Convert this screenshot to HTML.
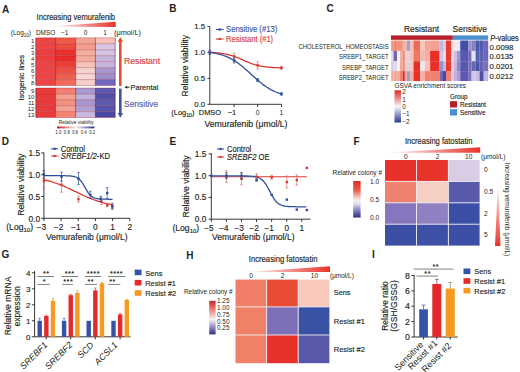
<!DOCTYPE html>
<html><head><meta charset="utf-8"><style>
html,body{margin:0;padding:0;background:#fff;}
svg{display:block;}
text{font-family:"Liberation Sans", sans-serif;}
</style></head><body>
<svg width="520" height="372" viewBox="0 0 520 372">
<rect width="520" height="372" fill="#fff"/>
<g fill="#231f20">
<text x="2.00" y="12.60" font-size="10" font-weight="bold" textLength="7.30" lengthAdjust="spacingAndGlyphs" >A</text>
<text x="36.60" y="20.00" font-size="8.56" stroke="#231f20" stroke-width="0.15" textLength="78.40" lengthAdjust="spacingAndGlyphs" >Increasing vemurafenib</text>
<defs><linearGradient id="wA" x1="0" x2="1" y1="0" y2="0"><stop offset="0" stop-color="#fff"/><stop offset="1" stop-color="#e8332a"/></linearGradient><linearGradient id="wV" x1="0" x2="0" y1="0" y2="1"><stop offset="0" stop-color="#fff"/><stop offset="1" stop-color="#e8332a"/></linearGradient><linearGradient id="cbA" x1="0" x2="1"><stop offset="0" stop-color="#b2182b"/><stop offset="0.25" stop-color="#e7807a"/><stop offset="0.5" stop-color="#f7f4f6"/><stop offset="0.75" stop-color="#9a8fc4"/><stop offset="1" stop-color="#2a2a72"/></linearGradient><linearGradient id="cbC" x1="0" x2="0" y1="0" y2="1"><stop offset="0" stop-color="#e0281e"/><stop offset="0.5" stop-color="#f8f4f6"/><stop offset="1" stop-color="#2c3b92"/></linearGradient><linearGradient id="cbF" x1="0" x2="0" y1="0" y2="1"><stop offset="0" stop-color="#de2a22"/><stop offset="0.25" stop-color="#ea5a4c"/><stop offset="0.52" stop-color="#f8eeee"/><stop offset="0.62" stop-color="#e6e0ee"/><stop offset="0.82" stop-color="#7e7cbc"/><stop offset="1" stop-color="#2e2e88"/></linearGradient></defs>
<polygon points="50,26.5 115.7,21.8 115.7,26.9" fill="url(#wA)"/>
<text x="10.80" y="35.00" font-size="6.5" >(Log<tspan font-size="4.5" dy="1.5">10</tspan><tspan dy="-1.5">)</tspan></text>
<text x="36.00" y="35.00" font-size="6.5" textLength="19.20" lengthAdjust="spacingAndGlyphs" >DMSO</text>
<text x="68.40" y="35.00" font-size="6.5" text-anchor="end" >−1</text>
<text x="85.50" y="35.00" font-size="6.5" text-anchor="middle" >0</text>
<text x="105.00" y="35.00" font-size="6.5" text-anchor="middle" >1</text>
<text x="114.00" y="35.00" font-size="6.5" textLength="27.00" lengthAdjust="spacingAndGlyphs" >(μmol/L)</text>
<rect x="35.80" y="37.80" width="19.80" height="5.97" fill="#ed4446" />
<rect x="55.60" y="37.80" width="20.00" height="5.97" fill="#ef5a48" />
<rect x="75.60" y="37.80" width="19.80" height="5.97" fill="#f2a495" />
<rect x="95.40" y="37.80" width="19.80" height="5.97" fill="#f6c2b8" />
<rect x="35.80" y="43.77" width="19.80" height="5.97" fill="#ed4446" />
<rect x="55.60" y="43.77" width="20.00" height="5.97" fill="#ed4a40" />
<rect x="75.60" y="43.77" width="19.80" height="5.97" fill="#f29d8d" />
<rect x="95.40" y="43.77" width="19.80" height="5.97" fill="#d9c6e3" />
<rect x="35.80" y="49.74" width="19.80" height="5.97" fill="#ec3e40" />
<rect x="55.60" y="49.74" width="20.00" height="5.97" fill="#e9302c" />
<rect x="75.60" y="49.74" width="19.80" height="5.97" fill="#f3ae9f" />
<rect x="95.40" y="49.74" width="19.80" height="5.97" fill="#d3c3e2" />
<rect x="35.80" y="55.71" width="19.80" height="5.97" fill="#ec3e40" />
<rect x="55.60" y="55.71" width="20.00" height="5.97" fill="#e82a28" />
<rect x="75.60" y="55.71" width="19.80" height="5.97" fill="#f3ad9f" />
<rect x="95.40" y="55.71" width="19.80" height="5.97" fill="#c5b5db" />
<rect x="35.80" y="61.68" width="19.80" height="5.97" fill="#ed4446" />
<rect x="55.60" y="61.68" width="20.00" height="5.97" fill="#eb3f36" />
<rect x="75.60" y="61.68" width="19.80" height="5.97" fill="#f5c3b8" />
<rect x="95.40" y="61.68" width="19.80" height="5.97" fill="#c6b6dd" />
<rect x="35.80" y="67.65" width="19.80" height="5.97" fill="#ed4446" />
<rect x="55.60" y="67.65" width="20.00" height="5.97" fill="#ec4f44" />
<rect x="75.60" y="67.65" width="19.80" height="5.97" fill="#f4d4d0" />
<rect x="95.40" y="67.65" width="19.80" height="5.97" fill="#a898cd" />
<rect x="35.80" y="73.62" width="19.80" height="5.97" fill="#ed4446" />
<rect x="55.60" y="73.62" width="20.00" height="5.97" fill="#ee5e50" />
<rect x="75.60" y="73.62" width="19.80" height="5.97" fill="#f4d6d3" />
<rect x="95.40" y="73.62" width="19.80" height="5.97" fill="#9e8fca" />
<rect x="35.80" y="79.59" width="19.80" height="5.97" fill="#ed4446" />
<rect x="55.60" y="79.59" width="20.00" height="5.97" fill="#ef6c5c" />
<rect x="75.60" y="79.59" width="19.80" height="5.97" fill="#f3cfcb" />
<rect x="95.40" y="79.59" width="19.80" height="5.97" fill="#7068bd" />
<rect x="35.80" y="88.00" width="19.80" height="5.90" fill="#e83a38" />
<rect x="55.60" y="88.00" width="20.00" height="5.90" fill="#f28070" />
<rect x="75.60" y="88.00" width="19.80" height="5.90" fill="#a898d0" />
<rect x="95.40" y="88.00" width="19.80" height="5.90" fill="#5a5ab0" />
<rect x="35.80" y="93.90" width="19.80" height="5.90" fill="#e83a38" />
<rect x="55.60" y="93.90" width="20.00" height="5.90" fill="#f4a090" />
<rect x="75.60" y="93.90" width="19.80" height="5.90" fill="#c0b0dc" />
<rect x="95.40" y="93.90" width="19.80" height="5.90" fill="#5050a8" />
<rect x="35.80" y="99.80" width="19.80" height="5.90" fill="#e83a38" />
<rect x="55.60" y="99.80" width="20.00" height="5.90" fill="#f29080" />
<rect x="75.60" y="99.80" width="19.80" height="5.90" fill="#a898d0" />
<rect x="95.40" y="99.80" width="19.80" height="5.90" fill="#5c5cb0" />
<rect x="35.80" y="105.70" width="19.80" height="5.90" fill="#e83a38" />
<rect x="55.60" y="105.70" width="20.00" height="5.90" fill="#f4a090" />
<rect x="75.60" y="105.70" width="19.80" height="5.90" fill="#b0a0d4" />
<rect x="95.40" y="105.70" width="19.80" height="5.90" fill="#5454ac" />
<rect x="35.80" y="111.60" width="19.80" height="5.90" fill="#e83a38" />
<rect x="55.60" y="111.60" width="20.00" height="5.90" fill="#f28474" />
<rect x="75.60" y="111.60" width="19.80" height="5.90" fill="#c8b8e0" />
<rect x="95.40" y="111.60" width="19.80" height="5.90" fill="#4848a4" />
<line x1="35.80" y1="37.80" x2="115.20" y2="37.80" stroke="rgba(140,0,25,0.32)" stroke-width="0.9" />
<line x1="35.80" y1="43.77" x2="115.20" y2="43.77" stroke="rgba(140,0,25,0.32)" stroke-width="0.9" />
<line x1="35.80" y1="49.74" x2="115.20" y2="49.74" stroke="rgba(140,0,25,0.32)" stroke-width="0.9" />
<line x1="35.80" y1="55.71" x2="115.20" y2="55.71" stroke="rgba(140,0,25,0.32)" stroke-width="0.9" />
<line x1="35.80" y1="61.68" x2="115.20" y2="61.68" stroke="rgba(140,0,25,0.32)" stroke-width="0.9" />
<line x1="35.80" y1="67.65" x2="115.20" y2="67.65" stroke="rgba(140,0,25,0.32)" stroke-width="0.9" />
<line x1="35.80" y1="73.62" x2="115.20" y2="73.62" stroke="rgba(140,0,25,0.32)" stroke-width="0.9" />
<line x1="35.80" y1="79.59" x2="115.20" y2="79.59" stroke="rgba(140,0,25,0.32)" stroke-width="0.9" />
<line x1="35.80" y1="85.56" x2="115.20" y2="85.56" stroke="rgba(140,0,25,0.32)" stroke-width="0.9" />
<line x1="35.80" y1="88.00" x2="115.20" y2="88.00" stroke="rgba(140,0,25,0.32)" stroke-width="0.9" />
<line x1="35.80" y1="93.90" x2="115.20" y2="93.90" stroke="rgba(140,0,25,0.32)" stroke-width="0.9" />
<line x1="35.80" y1="99.80" x2="115.20" y2="99.80" stroke="rgba(140,0,25,0.32)" stroke-width="0.9" />
<line x1="35.80" y1="105.70" x2="115.20" y2="105.70" stroke="rgba(140,0,25,0.32)" stroke-width="0.9" />
<line x1="35.80" y1="111.60" x2="115.20" y2="111.60" stroke="rgba(140,0,25,0.32)" stroke-width="0.9" />
<line x1="35.80" y1="117.50" x2="115.20" y2="117.50" stroke="rgba(140,0,25,0.32)" stroke-width="0.9" />
<line x1="35.80" y1="37.80" x2="35.80" y2="85.56" stroke="rgba(90,0,25,0.6)" stroke-width="0.8" />
<line x1="35.80" y1="88.00" x2="35.80" y2="117.50" stroke="rgba(90,0,25,0.6)" stroke-width="0.8" />
<line x1="55.60" y1="37.80" x2="55.60" y2="85.56" stroke="rgba(90,0,25,0.6)" stroke-width="0.8" />
<line x1="55.60" y1="88.00" x2="55.60" y2="117.50" stroke="rgba(90,0,25,0.6)" stroke-width="0.8" />
<line x1="75.60" y1="37.80" x2="75.60" y2="85.56" stroke="rgba(90,0,25,0.6)" stroke-width="0.8" />
<line x1="75.60" y1="88.00" x2="75.60" y2="117.50" stroke="rgba(90,0,25,0.6)" stroke-width="0.8" />
<line x1="95.40" y1="37.80" x2="95.40" y2="85.56" stroke="rgba(90,0,25,0.6)" stroke-width="0.8" />
<line x1="95.40" y1="88.00" x2="95.40" y2="117.50" stroke="rgba(90,0,25,0.6)" stroke-width="0.8" />
<line x1="115.20" y1="37.80" x2="115.20" y2="85.56" stroke="rgba(90,0,25,0.6)" stroke-width="0.8" />
<line x1="115.20" y1="88.00" x2="115.20" y2="117.50" stroke="rgba(90,0,25,0.6)" stroke-width="0.8" />
<text x="34.40" y="42.88" font-size="6" text-anchor="end" >1</text>
<text x="34.40" y="48.85" font-size="6" text-anchor="end" >2</text>
<text x="34.40" y="54.82" font-size="6" text-anchor="end" >3</text>
<text x="34.40" y="60.79" font-size="6" text-anchor="end" >4</text>
<text x="34.40" y="66.76" font-size="6" text-anchor="end" >5</text>
<text x="34.40" y="72.73" font-size="6" text-anchor="end" >6</text>
<text x="34.40" y="78.70" font-size="6" text-anchor="end" >7</text>
<text x="34.40" y="84.67" font-size="6" text-anchor="end" >8</text>
<text x="34.40" y="93.05" font-size="6" text-anchor="end" >9</text>
<text x="34.40" y="98.95" font-size="6" text-anchor="end" >10</text>
<text x="34.40" y="104.85" font-size="6" text-anchor="end" >11</text>
<text x="34.40" y="110.75" font-size="6" text-anchor="end" >12</text>
<text x="34.40" y="116.65" font-size="6" text-anchor="end" >13</text>
<text x="24.30" y="100.60" font-size="7.4" stroke="#231f20" stroke-width="0.15" textLength="45.60" lengthAdjust="spacingAndGlyphs" transform="rotate(-90 24.30 100.60)" >Isogenic lines</text>
<line x1="120.3" y1="41" x2="120.3" y2="85.9" stroke="#e4502e" stroke-width="2.6"/>
<polygon points="117.6,41.8 123.0,41.8 120.3,37.0" fill="#e4502e"/>
<line x1="120.3" y1="88.6" x2="120.3" y2="113.5" stroke="#3a55a4" stroke-width="2.6"/>
<polygon points="117.6,113 123.0,113 120.3,117.8" fill="#3a55a4"/>
<text x="124.00" y="63.60" font-size="9.2" fill="#d63e42" stroke="#d63e42" stroke-width="0.15" textLength="36.10" lengthAdjust="spacingAndGlyphs" >Resistant</text>
<text x="124.00" y="107.10" font-size="9.0" fill="#5464aa" stroke="#5464aa" stroke-width="0.15" textLength="34.30" lengthAdjust="spacingAndGlyphs" >Sensitive</text>
<line x1="126.50" y1="87.20" x2="129.60" y2="87.20" stroke="#231f20" stroke-width="0.9" />
<polygon points="124.4,87.2 127.2,85.7 127.2,88.7" fill="#231f20"/>
<text x="130.50" y="89.80" font-size="7.81" stroke="#231f20" stroke-width="0.15" textLength="27.80" lengthAdjust="spacingAndGlyphs" >Parental</text>
<text x="58.80" y="124.00" font-size="5.56" textLength="35.00" lengthAdjust="spacingAndGlyphs" >Relative viability</text>
<rect x="57.00" y="126.50" width="37.40" height="1.90" fill="url(#cbA)" />
<text x="55.30" y="134.00" font-size="4.6" textLength="39.90" lengthAdjust="spacingAndGlyphs" >1.0 &#160;0.8 &#160;0.6 &#160;0.4 &#160;0.2</text>
<text x="169.20" y="12.40" font-size="10" font-weight="bold" >B</text>
<line x1="209.80" y1="26.50" x2="209.80" y2="104.30" stroke="#231f20" stroke-width="0.9" />
<line x1="209.80" y1="104.30" x2="281.50" y2="104.30" stroke="#231f20" stroke-width="0.9" />
<line x1="207.40" y1="104.30" x2="209.80" y2="104.30" stroke="#231f20" stroke-width="0.9" />
<text x="205.20" y="107.00" font-size="7.8" text-anchor="end" stroke="#231f20" stroke-width="0.15" >0.0</text>
<line x1="207.40" y1="78.35" x2="209.80" y2="78.35" stroke="#231f20" stroke-width="0.9" />
<text x="205.20" y="81.05" font-size="7.8" text-anchor="end" stroke="#231f20" stroke-width="0.15" >0.5</text>
<line x1="207.40" y1="52.40" x2="209.80" y2="52.40" stroke="#231f20" stroke-width="0.9" />
<text x="205.20" y="55.10" font-size="7.8" text-anchor="end" stroke="#231f20" stroke-width="0.15" >1.0</text>
<line x1="207.40" y1="26.45" x2="209.80" y2="26.45" stroke="#231f20" stroke-width="0.9" />
<text x="205.20" y="29.15" font-size="7.8" text-anchor="end" stroke="#231f20" stroke-width="0.15" >1.5</text>
<line x1="234.10" y1="104.30" x2="234.10" y2="107.00" stroke="#231f20" stroke-width="0.9" />
<line x1="257.60" y1="104.30" x2="257.60" y2="107.00" stroke="#231f20" stroke-width="0.9" />
<line x1="281.50" y1="104.30" x2="281.50" y2="107.00" stroke="#231f20" stroke-width="0.9" />
<text x="188.40" y="65.70" font-size="8.88" text-anchor="middle" stroke="#231f20" stroke-width="0.15" textLength="61.40" lengthAdjust="spacingAndGlyphs" transform="rotate(-90 188.40 65.70)" >Relative viability</text>
<text x="194.40" y="115.20" font-size="7.4" text-anchor="end" stroke="#231f20" stroke-width="0.15" >(Log<tspan font-size="5.2" dy="1.7">10</tspan><tspan dy="-1.7">)</tspan></text>
<text x="198.80" y="115.20" font-size="7.92" stroke="#231f20" stroke-width="0.15" textLength="22.20" lengthAdjust="spacingAndGlyphs" >DMSO</text>
<text x="236.10" y="115.20" font-size="7.4" text-anchor="end" stroke="#231f20" stroke-width="0.15" >−1</text>
<text x="257.60" y="115.00" font-size="6.8" text-anchor="middle" >0</text>
<text x="281.50" y="115.00" font-size="6.8" text-anchor="middle" >1</text>
<text x="204.50" y="127.20" font-size="8.13" stroke="#231f20" stroke-width="0.15" textLength="83.00" lengthAdjust="spacingAndGlyphs" >Vemurafenib (μmol/L)</text>
<polyline fill="none" stroke="#dc3a30" stroke-width="1.3" points="209.8,52.4 210.8,52.4 211.8,52.5 212.8,52.5 213.8,52.6 214.8,52.7 215.8,52.7 216.8,52.8 217.8,52.9 218.8,53.0 219.8,53.1 220.8,53.3 221.8,53.4 222.8,53.6 223.8,53.7 224.8,53.9 225.8,54.1 226.8,54.3 227.8,54.5 228.8,54.8 229.8,55.1 230.8,55.3 231.8,55.6 232.8,56.0 233.8,56.3 234.8,56.6 235.8,57.0 236.8,57.4 237.8,57.8 238.8,58.2 239.8,58.6 240.8,59.1 241.8,59.5 242.8,59.9 243.8,60.4 244.8,60.8 245.8,61.3 246.8,61.7 247.8,62.1 248.8,62.5 249.8,62.9 250.8,63.3 251.8,63.6 252.8,64.0 253.8,64.3 254.8,64.6 255.8,64.9 256.8,65.2 257.8,65.4 258.8,65.7 259.8,65.9 260.8,66.1 261.8,66.3 262.8,66.4 263.8,66.6 264.8,66.7 265.8,66.9 266.8,67.0 267.8,67.1 268.8,67.2 269.8,67.3 270.8,67.4 271.8,67.4 272.8,67.5 273.8,67.6 274.8,67.6 275.8,67.7 276.8,67.7 277.8,67.7 278.8,67.8 279.8,67.8 280.8,67.8 281.8,67.9"/>
<polyline fill="none" stroke="#2f4f9e" stroke-width="1.3" points="209.8,52.3 210.8,52.5 211.8,52.6 212.8,52.8 213.8,53.0 214.8,53.1 215.8,53.3 216.8,53.6 217.8,53.8 218.8,54.1 219.8,54.3 220.8,54.6 221.8,54.9 222.8,55.2 223.8,55.6 224.8,55.9 225.8,56.3 226.8,56.7 227.8,57.2 228.8,57.6 229.8,58.1 230.8,58.6 231.8,59.2 232.8,59.7 233.8,60.3 234.8,60.9 235.8,61.6 236.8,62.3 237.8,63.0 238.8,63.7 239.8,64.4 240.8,65.2 241.8,66.0 242.8,66.8 243.8,67.7 244.8,68.5 245.8,69.4 246.8,70.3 247.8,71.2 248.8,72.1 249.8,73.0 250.8,74.0 251.8,74.9 252.8,75.8 253.8,76.7 254.8,77.6 255.8,78.5 256.8,79.4 257.8,80.3 258.8,81.1 259.8,82.0 260.8,82.8 261.8,83.6 262.8,84.4 263.8,85.1 264.8,85.8 265.8,86.5 266.8,87.2 267.8,87.8 268.8,88.4 269.8,89.0 270.8,89.6 271.8,90.1 272.8,90.6 273.8,91.1 274.8,91.5 275.8,92.0 276.8,92.4 277.8,92.7 278.8,93.1 279.8,93.4 280.8,93.8 281.8,94.1"/>
<rect x="208.60" y="51.20" width="2.40" height="2.40" fill="#dc3a30" />
<line x1="234.10" y1="53.10" x2="234.10" y2="59.70" stroke="#e06a5a" stroke-width="0.7" />
<line x1="232.80" y1="53.10" x2="235.40" y2="53.10" stroke="#e06a5a" stroke-width="0.7" />
<line x1="232.80" y1="59.70" x2="235.40" y2="59.70" stroke="#e06a5a" stroke-width="0.7" />
<rect x="232.90" y="55.20" width="2.40" height="2.40" fill="#dc3a30" />
<line x1="257.60" y1="61.77" x2="257.60" y2="68.97" stroke="#e06a5a" stroke-width="0.7" />
<line x1="256.30" y1="61.77" x2="258.90" y2="61.77" stroke="#e06a5a" stroke-width="0.7" />
<line x1="256.30" y1="68.97" x2="258.90" y2="68.97" stroke="#e06a5a" stroke-width="0.7" />
<rect x="256.40" y="64.17" width="2.40" height="2.40" fill="#dc3a30" />
<line x1="281.50" y1="66.37" x2="281.50" y2="69.37" stroke="#e06a5a" stroke-width="0.7" />
<line x1="280.20" y1="66.37" x2="282.80" y2="66.37" stroke="#e06a5a" stroke-width="0.7" />
<line x1="280.20" y1="69.37" x2="282.80" y2="69.37" stroke="#e06a5a" stroke-width="0.7" />
<rect x="280.30" y="66.67" width="2.40" height="2.40" fill="#dc3a30" />
<line x1="209.80" y1="50.20" x2="209.80" y2="54.60" stroke="#2f4f9e" stroke-width="0.7" />
<line x1="208.50" y1="50.20" x2="211.10" y2="50.20" stroke="#2f4f9e" stroke-width="0.7" />
<line x1="208.50" y1="54.60" x2="211.10" y2="54.60" stroke="#2f4f9e" stroke-width="0.7" />
<rect x="208.60" y="51.20" width="2.40" height="2.40" fill="#2f4f9e" />
<line x1="234.10" y1="58.00" x2="234.10" y2="63.00" stroke="#2f4f9e" stroke-width="0.7" />
<line x1="232.80" y1="58.00" x2="235.40" y2="58.00" stroke="#2f4f9e" stroke-width="0.7" />
<line x1="232.80" y1="63.00" x2="235.40" y2="63.00" stroke="#2f4f9e" stroke-width="0.7" />
<rect x="232.90" y="59.30" width="2.40" height="2.40" fill="#2f4f9e" />
<line x1="257.60" y1="78.61" x2="257.60" y2="81.61" stroke="#2f4f9e" stroke-width="0.7" />
<line x1="256.30" y1="78.61" x2="258.90" y2="78.61" stroke="#2f4f9e" stroke-width="0.7" />
<line x1="256.30" y1="81.61" x2="258.90" y2="81.61" stroke="#2f4f9e" stroke-width="0.7" />
<rect x="256.40" y="78.91" width="2.40" height="2.40" fill="#2f4f9e" />
<line x1="281.50" y1="92.77" x2="281.50" y2="95.17" stroke="#2f4f9e" stroke-width="0.7" />
<line x1="280.20" y1="92.77" x2="282.80" y2="92.77" stroke="#2f4f9e" stroke-width="0.7" />
<line x1="280.20" y1="95.17" x2="282.80" y2="95.17" stroke="#2f4f9e" stroke-width="0.7" />
<rect x="280.30" y="92.77" width="2.40" height="2.40" fill="#2f4f9e" />
<line x1="216.00" y1="29.50" x2="223.40" y2="29.50" stroke="#2f4f9e" stroke-width="1.1" />
<rect x="218.60" y="28.40" width="2.20" height="2.20" fill="#2f4f9e" />
<text x="226.10" y="32.20" font-size="8.13" fill="#3c58a6" stroke="#3c58a6" stroke-width="0.15" textLength="51.20" lengthAdjust="spacingAndGlyphs" >Sensitive (#13)</text>
<line x1="216.00" y1="39.00" x2="223.40" y2="39.00" stroke="#dc3a30" stroke-width="1.1" />
<rect x="218.60" y="37.90" width="2.20" height="2.20" fill="#dc3a30" />
<text x="226.10" y="41.70" font-size="8.13" fill="#d8463a" stroke="#d8463a" stroke-width="0.15" textLength="47.00" lengthAdjust="spacingAndGlyphs" >Resistant (#1)</text>
<text x="326.60" y="12.40" font-size="10" font-weight="bold" >C</text>
<text x="404.00" y="32.00" font-size="9.2" stroke="#231f20" stroke-width="0.15" textLength="35.20" lengthAdjust="spacingAndGlyphs" >Resistant</text>
<text x="452.50" y="32.00" font-size="9.2" stroke="#231f20" stroke-width="0.15" textLength="34.50" lengthAdjust="spacingAndGlyphs" >Sensitive</text>
<text x="490.20" y="41.10" font-size="8.13" stroke="#231f20" stroke-width="0.15" textLength="28.60" lengthAdjust="spacingAndGlyphs" ><tspan font-style="italic">P</tspan>-values</text>
<text x="489.60" y="49.80" font-size="8.1" stroke="#231f20" stroke-width="0.15" textLength="23.80" lengthAdjust="spacingAndGlyphs" >0.0098</text>
<text x="489.60" y="58.90" font-size="8.1" stroke="#231f20" stroke-width="0.15" textLength="23.80" lengthAdjust="spacingAndGlyphs" >0.0135</text>
<text x="489.60" y="69.40" font-size="8.1" stroke="#231f20" stroke-width="0.15" textLength="23.80" lengthAdjust="spacingAndGlyphs" >0.0201</text>
<text x="489.60" y="79.20" font-size="8.1" stroke="#231f20" stroke-width="0.15" textLength="23.80" lengthAdjust="spacingAndGlyphs" >0.0212</text>
<text x="388.60" y="49.20" font-size="6.4" text-anchor="end" textLength="90.00" lengthAdjust="spacingAndGlyphs" >CHOLESTEROL_HOMEOSTASIS</text>
<text x="388.60" y="59.10" font-size="6.4" text-anchor="end" textLength="49.50" lengthAdjust="spacingAndGlyphs" >SREBP1_TARGET</text>
<text x="388.60" y="70.40" font-size="6.4" text-anchor="end" textLength="46.50" lengthAdjust="spacingAndGlyphs" >SREBP_TARGET</text>
<text x="388.60" y="79.90" font-size="6.4" text-anchor="end" textLength="49.80" lengthAdjust="spacingAndGlyphs" >SREBP2_TARGET</text>
<rect x="391.00" y="35.40" width="61.80" height="4.40" fill="#b5202a" />
<rect x="452.80" y="35.40" width="35.40" height="4.40" fill="#4a8fd0" />
<rect x="391.20" y="40.50" width="2.35" height="10.45" fill="#f09080" />
<rect x="391.20" y="50.90" width="2.35" height="10.35" fill="#e8d8e8" />
<rect x="391.20" y="61.20" width="2.35" height="9.95" fill="#d0c8e0" />
<rect x="391.20" y="71.10" width="2.35" height="9.95" fill="#f0a8a0" />
<rect x="393.50" y="40.50" width="3.65" height="10.45" fill="#f08a70" />
<rect x="393.50" y="50.90" width="3.65" height="10.35" fill="#7068b0" />
<rect x="393.50" y="61.20" width="3.65" height="9.95" fill="#e0d8e8" />
<rect x="393.50" y="71.10" width="3.65" height="9.95" fill="#f0a898" />
<rect x="397.10" y="40.50" width="2.95" height="10.45" fill="#f09078" />
<rect x="397.10" y="50.90" width="2.95" height="10.35" fill="#f8f0f0" />
<rect x="397.10" y="61.20" width="2.95" height="9.95" fill="#f8f0f0" />
<rect x="397.10" y="71.10" width="2.95" height="9.95" fill="#f4a898" />
<rect x="400.00" y="40.50" width="2.75" height="10.45" fill="#f09080" />
<rect x="400.00" y="50.90" width="2.75" height="10.35" fill="#f4b0a0" />
<rect x="400.00" y="61.20" width="2.75" height="9.95" fill="#f4a898" />
<rect x="400.00" y="71.10" width="2.75" height="9.95" fill="#f08070" />
<rect x="402.70" y="40.50" width="2.15" height="10.45" fill="#f4a898" />
<rect x="402.70" y="50.90" width="2.15" height="10.35" fill="#f08070" />
<rect x="402.70" y="61.20" width="2.15" height="9.95" fill="#f08a78" />
<rect x="402.70" y="71.10" width="2.15" height="9.95" fill="#e02820" />
<rect x="404.80" y="40.50" width="2.15" height="10.45" fill="#f4b8b0" />
<rect x="404.80" y="50.90" width="2.15" height="10.35" fill="#f0d0d0" />
<rect x="404.80" y="61.20" width="2.15" height="9.95" fill="#f4c8c8" />
<rect x="404.80" y="71.10" width="2.15" height="9.95" fill="#f0a8a0" />
<rect x="406.90" y="40.50" width="3.25" height="10.45" fill="#a0a0d0" />
<rect x="406.90" y="50.90" width="3.25" height="10.35" fill="#f0d0d8" />
<rect x="406.90" y="61.20" width="3.25" height="9.95" fill="#e0d0e8" />
<rect x="406.90" y="71.10" width="3.25" height="9.95" fill="#a0a0d0" />
<rect x="410.10" y="40.50" width="3.45" height="10.45" fill="#f4c0b8" />
<rect x="410.10" y="50.90" width="3.45" height="10.35" fill="#f4c0b8" />
<rect x="410.10" y="61.20" width="3.45" height="9.95" fill="#f4c8c0" />
<rect x="410.10" y="71.10" width="3.45" height="9.95" fill="#f4b0a8" />
<rect x="413.50" y="40.50" width="6.75" height="10.45" fill="#f06858" />
<rect x="413.50" y="50.90" width="6.75" height="10.35" fill="#f07860" />
<rect x="413.50" y="61.20" width="6.75" height="9.95" fill="#e83028" />
<rect x="413.50" y="71.10" width="6.75" height="9.95" fill="#e83028" />
<rect x="420.20" y="40.50" width="4.65" height="10.45" fill="#f8c4b8" />
<rect x="420.20" y="50.90" width="4.65" height="10.35" fill="#f4b8b0" />
<rect x="420.20" y="61.20" width="4.65" height="9.95" fill="#f0e8ec" />
<rect x="420.20" y="71.10" width="4.65" height="9.95" fill="#f4b0a0" />
<rect x="424.80" y="40.50" width="5.35" height="10.45" fill="#f4a898" />
<rect x="424.80" y="50.90" width="5.35" height="10.35" fill="#f4b0a0" />
<rect x="424.80" y="61.20" width="5.35" height="9.95" fill="#f4c0b8" />
<rect x="424.80" y="71.10" width="5.35" height="9.95" fill="#f08070" />
<rect x="430.10" y="40.50" width="9.55" height="10.45" fill="#f4a090" />
<rect x="430.10" y="50.90" width="9.55" height="10.35" fill="#e83028" />
<rect x="430.10" y="61.20" width="9.55" height="9.95" fill="#e83028" />
<rect x="430.10" y="71.10" width="9.55" height="9.95" fill="#f08070" />
<rect x="439.60" y="40.50" width="3.45" height="10.45" fill="#c0b8e0" />
<rect x="439.60" y="50.90" width="3.45" height="10.35" fill="#d0c8e4" />
<rect x="439.60" y="61.20" width="3.45" height="9.95" fill="#9890c8" />
<rect x="439.60" y="71.10" width="3.45" height="9.95" fill="#7068b8" />
<rect x="443.00" y="40.50" width="3.05" height="10.45" fill="#e0c8e0" />
<rect x="443.00" y="50.90" width="3.05" height="10.35" fill="#ecd8e8" />
<rect x="443.00" y="61.20" width="3.05" height="9.95" fill="#c8b8e0" />
<rect x="443.00" y="71.10" width="3.05" height="9.95" fill="#4848a0" />
<rect x="446.00" y="40.50" width="5.45" height="10.45" fill="#e83830" />
<rect x="446.00" y="50.90" width="5.45" height="10.35" fill="#e83830" />
<rect x="446.00" y="61.20" width="5.45" height="9.95" fill="#e83830" />
<rect x="446.00" y="71.10" width="5.45" height="9.95" fill="#f08070" />
<rect x="451.40" y="40.50" width="2.05" height="10.45" fill="#f8d8d8" />
<rect x="451.40" y="50.90" width="2.05" height="10.35" fill="#f8e0e0" />
<rect x="451.40" y="61.20" width="2.05" height="9.95" fill="#f8d0d8" />
<rect x="451.40" y="71.10" width="2.05" height="9.95" fill="#e8c8e0" />
<rect x="453.40" y="40.50" width="3.45" height="10.45" fill="#f8e8e8" />
<rect x="453.40" y="50.90" width="3.45" height="10.35" fill="#d0c0e0" />
<rect x="453.40" y="61.20" width="3.45" height="9.95" fill="#c8b8e0" />
<rect x="453.40" y="71.10" width="3.45" height="9.95" fill="#c0b0dc" />
<rect x="456.80" y="40.50" width="3.45" height="10.45" fill="#f0e8f0" />
<rect x="456.80" y="50.90" width="3.45" height="10.35" fill="#a098d0" />
<rect x="456.80" y="61.20" width="3.45" height="9.95" fill="#9088c8" />
<rect x="456.80" y="71.10" width="3.45" height="9.95" fill="#a8a0d4" />
<rect x="460.20" y="40.50" width="8.05" height="10.45" fill="#4050a8" />
<rect x="460.20" y="50.90" width="8.05" height="10.35" fill="#5858b0" />
<rect x="460.20" y="61.20" width="8.05" height="9.95" fill="#5858b0" />
<rect x="460.20" y="71.10" width="8.05" height="9.95" fill="#6058b0" />
<rect x="468.20" y="40.50" width="3.45" height="10.45" fill="#9890c8" />
<rect x="468.20" y="50.90" width="3.45" height="10.35" fill="#7068b8" />
<rect x="468.20" y="61.20" width="3.45" height="9.95" fill="#7870b8" />
<rect x="468.20" y="71.10" width="3.45" height="9.95" fill="#7870bc" />
<rect x="471.60" y="40.50" width="4.05" height="10.45" fill="#8880c0" />
<rect x="471.60" y="50.90" width="4.05" height="10.35" fill="#e8e0f0" />
<rect x="471.60" y="61.20" width="4.05" height="9.95" fill="#6868b0" />
<rect x="471.60" y="71.10" width="4.05" height="9.95" fill="#d0c8e8" />
<rect x="475.60" y="40.50" width="4.05" height="10.45" fill="#4858a8" />
<rect x="475.60" y="50.90" width="4.05" height="10.35" fill="#5060b0" />
<rect x="475.60" y="61.20" width="4.05" height="9.95" fill="#4858a8" />
<rect x="475.60" y="71.10" width="4.05" height="9.95" fill="#c8c0e0" />
<rect x="479.60" y="40.50" width="4.15" height="10.45" fill="#5058b0" />
<rect x="479.60" y="50.90" width="4.15" height="10.35" fill="#6060b0" />
<rect x="479.60" y="61.20" width="4.15" height="9.95" fill="#6860b4" />
<rect x="479.60" y="71.10" width="4.15" height="9.95" fill="#5050a8" />
<rect x="483.70" y="40.50" width="4.55" height="10.45" fill="#7068b8" />
<rect x="483.70" y="50.90" width="4.55" height="10.35" fill="#6868b4" />
<rect x="483.70" y="61.20" width="4.55" height="9.95" fill="#7870b8" />
<rect x="483.70" y="71.10" width="4.55" height="9.95" fill="#c0b8e0" />
<text x="394.50" y="88.30" font-size="7.06" textLength="71.50" lengthAdjust="spacingAndGlyphs" >GSVA enrichment scores</text>
<rect x="394.50" y="90.30" width="6.50" height="32.20" fill="url(#cbC)" />
<text x="402.30" y="94.30" font-size="6.4" >2</text>
<text x="402.30" y="101.60" font-size="6.4" >1</text>
<text x="402.30" y="109.00" font-size="6.4" >0</text>
<text x="402.30" y="116.30" font-size="6.4" >−1</text>
<text x="402.30" y="123.60" font-size="6.4" >−2</text>
<text x="450.00" y="99.40" font-size="7.49" stroke="#231f20" stroke-width="0.15" textLength="17.50" lengthAdjust="spacingAndGlyphs" >Group</text>
<rect x="450.00" y="101.20" width="7.00" height="6.30" fill="#b5202a" />
<text x="460.00" y="106.60" font-size="7.49" stroke="#231f20" stroke-width="0.15" textLength="26.00" lengthAdjust="spacingAndGlyphs" >Resistant</text>
<rect x="450.00" y="109.20" width="7.00" height="6.30" fill="#4a8fd0" />
<text x="460.00" y="114.90" font-size="7.49" stroke="#231f20" stroke-width="0.15" textLength="25.50" lengthAdjust="spacingAndGlyphs" >Sensitive</text>
<text x="1.80" y="144.90" font-size="10" font-weight="bold" >D</text>
<line x1="43.90" y1="152.60" x2="43.90" y2="218.30" stroke="#231f20" stroke-width="0.9" />
<line x1="43.90" y1="218.30" x2="130.00" y2="218.30" stroke="#231f20" stroke-width="0.9" />
<line x1="41.20" y1="218.30" x2="43.90" y2="218.30" stroke="#231f20" stroke-width="0.9" />
<text x="40.20" y="221.50" font-size="8.4" text-anchor="end" stroke="#231f20" stroke-width="0.15" >0.0</text>
<line x1="41.20" y1="196.50" x2="43.90" y2="196.50" stroke="#231f20" stroke-width="0.9" />
<text x="40.20" y="199.70" font-size="8.4" text-anchor="end" stroke="#231f20" stroke-width="0.15" >0.5</text>
<line x1="41.20" y1="174.70" x2="43.90" y2="174.70" stroke="#231f20" stroke-width="0.9" />
<text x="40.20" y="177.90" font-size="8.4" text-anchor="end" stroke="#231f20" stroke-width="0.15" >1.0</text>
<line x1="41.20" y1="152.90" x2="43.90" y2="152.90" stroke="#231f20" stroke-width="0.9" />
<text x="40.20" y="156.10" font-size="8.4" text-anchor="end" stroke="#231f20" stroke-width="0.15" >1.5</text>
<line x1="43.90" y1="218.30" x2="43.90" y2="221.00" stroke="#231f20" stroke-width="0.9" />
<text x="46.25" y="230.00" font-size="8.4" text-anchor="end" stroke="#231f20" stroke-width="0.15" >−3</text>
<line x1="61.08" y1="218.30" x2="61.08" y2="221.00" stroke="#231f20" stroke-width="0.9" />
<text x="63.43" y="230.00" font-size="8.4" text-anchor="end" stroke="#231f20" stroke-width="0.15" >−2</text>
<line x1="78.26" y1="218.30" x2="78.26" y2="221.00" stroke="#231f20" stroke-width="0.9" />
<text x="80.61" y="230.00" font-size="8.4" text-anchor="end" stroke="#231f20" stroke-width="0.15" >−1</text>
<line x1="95.44" y1="218.30" x2="95.44" y2="221.00" stroke="#231f20" stroke-width="0.9" />
<text x="95.44" y="230.00" font-size="8.4" text-anchor="middle" stroke="#231f20" stroke-width="0.15" >0</text>
<line x1="112.62" y1="218.30" x2="112.62" y2="221.00" stroke="#231f20" stroke-width="0.9" />
<text x="112.62" y="230.00" font-size="8.4" text-anchor="middle" stroke="#231f20" stroke-width="0.15" >1</text>
<line x1="129.80" y1="218.30" x2="129.80" y2="221.00" stroke="#231f20" stroke-width="0.9" />
<text x="129.80" y="230.00" font-size="8.4" text-anchor="middle" stroke="#231f20" stroke-width="0.15" >2</text>
<text x="33.00" y="230.00" font-size="8.6" text-anchor="end" stroke="#231f20" stroke-width="0.15" >(Log<tspan font-size="6.0" dy="2.0">10</tspan><tspan dy="-2.0">)</tspan></text>
<text x="46.00" y="240.20" font-size="8.77" stroke="#231f20" stroke-width="0.15" textLength="81.50" lengthAdjust="spacingAndGlyphs" >Vemurafenib (μmol/L)</text>
<text x="24.00" y="184.70" font-size="8.99" text-anchor="middle" stroke="#231f20" stroke-width="0.15" textLength="62.20" lengthAdjust="spacingAndGlyphs" transform="rotate(-90 24.00 184.70)" >Relative viability</text>
<polyline fill="none" stroke="#2f4f9e" stroke-width="1.3" points="43.9,175.7 44.9,175.7 45.9,175.7 46.9,175.7 47.9,175.7 48.9,175.7 49.9,175.7 50.9,175.7 51.9,175.7 52.8,175.7 53.8,175.7 54.8,175.7 55.8,175.7 56.8,175.7 57.8,175.7 58.8,175.7 59.8,175.7 60.8,175.7 61.8,175.7 62.8,175.7 63.8,175.7 64.8,175.7 65.8,175.8 66.8,175.8 67.8,175.8 68.8,175.9 69.7,175.9 70.7,176.0 71.7,176.1 72.7,176.3 73.7,176.5 74.7,176.7 75.7,177.0 76.7,177.5 77.7,178.0 78.7,178.8 79.7,179.7 80.7,180.7 81.7,182.0 82.7,183.5 83.7,185.1 84.7,186.8 85.7,188.6 86.7,190.3 87.6,191.9 88.6,193.3 89.6,194.5 90.6,195.5 91.6,196.4 92.6,197.1 93.6,197.6 94.6,198.0 95.6,198.3 96.6,198.6 97.6,198.7 98.6,198.9 99.6,199.0 100.6,199.0 101.6,199.1 102.6,199.1 103.6,199.2 104.5,199.2 105.5,199.2 106.5,199.2 107.5,199.2 108.5,199.3 109.5,199.3 110.5,199.3 111.5,199.3 112.5,199.3"/>
<polyline fill="none" stroke="#dc3a30" stroke-width="1.3" points="43.9,179.7 44.9,180.0 45.9,180.2 46.9,180.5 47.9,180.7 48.9,181.0 49.9,181.2 50.9,181.5 51.9,181.8 52.8,182.1 53.8,182.5 54.8,182.8 55.8,183.1 56.8,183.5 57.8,183.8 58.8,184.2 59.8,184.6 60.8,185.0 61.8,185.4 62.8,185.8 63.8,186.2 64.8,186.6 65.8,187.1 66.8,187.5 67.8,188.0 68.8,188.4 69.7,188.9 70.7,189.4 71.7,189.8 72.7,190.3 73.7,190.8 74.7,191.3 75.7,191.7 76.7,192.2 77.7,192.7 78.7,193.2 79.7,193.7 80.7,194.1 81.7,194.6 82.7,195.1 83.7,195.5 84.7,196.0 85.7,196.4 86.7,196.9 87.6,197.3 88.6,197.7 89.6,198.1 90.6,198.5 91.6,198.9 92.6,199.3 93.6,199.7 94.6,200.0 95.6,200.4 96.6,200.7 97.6,201.1 98.6,201.4 99.6,201.7 100.6,202.0 101.6,202.3 102.6,202.6 103.6,202.8 104.5,203.1 105.5,203.3 106.5,203.6 107.5,203.8 108.5,204.0 109.5,204.2 110.5,204.4 111.5,204.6 112.5,204.8"/>
<line x1="43.90" y1="173.80" x2="43.90" y2="187.80" stroke="#e06a5a" stroke-width="0.7" />
<line x1="42.60" y1="173.80" x2="45.20" y2="173.80" stroke="#e06a5a" stroke-width="0.7" />
<line x1="42.60" y1="187.80" x2="45.20" y2="187.80" stroke="#e06a5a" stroke-width="0.7" />
<rect x="42.70" y="179.60" width="2.40" height="2.40" fill="#dc3a30" />
<line x1="61.50" y1="177.23" x2="61.50" y2="192.23" stroke="#e06a5a" stroke-width="0.7" />
<line x1="60.20" y1="177.23" x2="62.80" y2="177.23" stroke="#e06a5a" stroke-width="0.7" />
<line x1="60.20" y1="192.23" x2="62.80" y2="192.23" stroke="#e06a5a" stroke-width="0.7" />
<rect x="60.30" y="183.53" width="2.40" height="2.40" fill="#dc3a30" />
<line x1="78.50" y1="196.12" x2="78.50" y2="202.12" stroke="#e06a5a" stroke-width="0.7" />
<line x1="77.20" y1="196.12" x2="79.80" y2="196.12" stroke="#e06a5a" stroke-width="0.7" />
<line x1="77.20" y1="202.12" x2="79.80" y2="202.12" stroke="#e06a5a" stroke-width="0.7" />
<rect x="77.30" y="197.92" width="2.40" height="2.40" fill="#dc3a30" />
<line x1="101.50" y1="198.73" x2="101.50" y2="204.73" stroke="#e06a5a" stroke-width="0.7" />
<line x1="100.20" y1="198.73" x2="102.80" y2="198.73" stroke="#e06a5a" stroke-width="0.7" />
<line x1="100.20" y1="204.73" x2="102.80" y2="204.73" stroke="#e06a5a" stroke-width="0.7" />
<rect x="100.30" y="200.53" width="2.40" height="2.40" fill="#dc3a30" />
<line x1="107.20" y1="203.72" x2="107.20" y2="206.72" stroke="#e06a5a" stroke-width="0.7" />
<line x1="105.90" y1="203.72" x2="108.50" y2="203.72" stroke="#e06a5a" stroke-width="0.7" />
<line x1="105.90" y1="206.72" x2="108.50" y2="206.72" stroke="#e06a5a" stroke-width="0.7" />
<rect x="106.00" y="204.02" width="2.40" height="2.40" fill="#dc3a30" />
<line x1="112.30" y1="204.53" x2="112.30" y2="208.53" stroke="#e06a5a" stroke-width="0.7" />
<line x1="111.00" y1="204.53" x2="113.60" y2="204.53" stroke="#e06a5a" stroke-width="0.7" />
<line x1="111.00" y1="208.53" x2="113.60" y2="208.53" stroke="#e06a5a" stroke-width="0.7" />
<rect x="111.10" y="205.33" width="2.40" height="2.40" fill="#dc3a30" />
<line x1="43.90" y1="170.48" x2="43.90" y2="178.48" stroke="#2f4f9e" stroke-width="0.7" />
<line x1="42.60" y1="170.48" x2="45.20" y2="170.48" stroke="#2f4f9e" stroke-width="0.7" />
<line x1="42.60" y1="178.48" x2="45.20" y2="178.48" stroke="#2f4f9e" stroke-width="0.7" />
<rect x="42.70" y="173.28" width="2.40" height="2.40" fill="#2f4f9e" />
<line x1="61.50" y1="172.16" x2="61.50" y2="181.16" stroke="#2f4f9e" stroke-width="0.7" />
<line x1="60.20" y1="172.16" x2="62.80" y2="172.16" stroke="#2f4f9e" stroke-width="0.7" />
<line x1="60.20" y1="181.16" x2="62.80" y2="181.16" stroke="#2f4f9e" stroke-width="0.7" />
<rect x="60.30" y="175.46" width="2.40" height="2.40" fill="#2f4f9e" />
<line x1="78.50" y1="172.62" x2="78.50" y2="184.62" stroke="#2f4f9e" stroke-width="0.7" />
<line x1="77.20" y1="172.62" x2="79.80" y2="172.62" stroke="#2f4f9e" stroke-width="0.7" />
<line x1="77.20" y1="184.62" x2="79.80" y2="184.62" stroke="#2f4f9e" stroke-width="0.7" />
<rect x="77.30" y="177.42" width="2.40" height="2.40" fill="#2f4f9e" />
<line x1="90.20" y1="191.26" x2="90.20" y2="198.26" stroke="#2f4f9e" stroke-width="0.7" />
<line x1="88.90" y1="191.26" x2="91.50" y2="191.26" stroke="#2f4f9e" stroke-width="0.7" />
<line x1="88.90" y1="198.26" x2="91.50" y2="198.26" stroke="#2f4f9e" stroke-width="0.7" />
<rect x="89.00" y="193.56" width="2.40" height="2.40" fill="#2f4f9e" />
<line x1="100.80" y1="196.18" x2="100.80" y2="201.18" stroke="#2f4f9e" stroke-width="0.7" />
<line x1="99.50" y1="196.18" x2="102.10" y2="196.18" stroke="#2f4f9e" stroke-width="0.7" />
<line x1="99.50" y1="201.18" x2="102.10" y2="201.18" stroke="#2f4f9e" stroke-width="0.7" />
<rect x="99.60" y="197.48" width="2.40" height="2.40" fill="#2f4f9e" />
<line x1="107.20" y1="187.64" x2="107.20" y2="198.64" stroke="#2f4f9e" stroke-width="0.7" />
<line x1="105.90" y1="187.64" x2="108.50" y2="187.64" stroke="#2f4f9e" stroke-width="0.7" />
<line x1="105.90" y1="198.64" x2="108.50" y2="198.64" stroke="#2f4f9e" stroke-width="0.7" />
<rect x="106.00" y="191.94" width="2.40" height="2.40" fill="#2f4f9e" />
<line x1="112.30" y1="203.27" x2="112.30" y2="209.27" stroke="#2f4f9e" stroke-width="0.7" />
<line x1="111.00" y1="203.27" x2="113.60" y2="203.27" stroke="#2f4f9e" stroke-width="0.7" />
<line x1="111.00" y1="209.27" x2="113.60" y2="209.27" stroke="#2f4f9e" stroke-width="0.7" />
<rect x="111.10" y="205.07" width="2.40" height="2.40" fill="#2f4f9e" />
<line x1="51.00" y1="148.80" x2="58.20" y2="148.80" stroke="#2f4f9e" stroke-width="1.1" />
<rect x="53.50" y="147.70" width="2.20" height="2.20" fill="#2f4f9e" />
<text x="60.80" y="151.60" font-size="8.35" stroke="#231f20" stroke-width="0.15" textLength="24.10" lengthAdjust="spacingAndGlyphs" >Control</text>
<line x1="51.00" y1="156.00" x2="58.20" y2="156.00" stroke="#dc3a30" stroke-width="1.1" />
<rect x="53.50" y="154.90" width="2.20" height="2.20" fill="#dc3a30" />
<text x="60.80" y="158.80" font-size="8.35" stroke="#231f20" stroke-width="0.15" textLength="49.20" lengthAdjust="spacingAndGlyphs" ><tspan font-style="italic">SREBF1/2</tspan>-KD</text>
<text x="169.40" y="144.90" font-size="10" font-weight="bold" >E</text>
<line x1="211.30" y1="153.10" x2="211.30" y2="219.20" stroke="#231f20" stroke-width="0.9" />
<line x1="211.30" y1="219.20" x2="310.50" y2="219.20" stroke="#231f20" stroke-width="0.9" />
<line x1="208.60" y1="219.20" x2="211.30" y2="219.20" stroke="#231f20" stroke-width="0.9" />
<text x="206.40" y="222.20" font-size="8.3" text-anchor="end" stroke="#231f20" stroke-width="0.15" >0.0</text>
<line x1="208.60" y1="197.45" x2="211.30" y2="197.45" stroke="#231f20" stroke-width="0.9" />
<text x="206.40" y="200.45" font-size="8.3" text-anchor="end" stroke="#231f20" stroke-width="0.15" >0.5</text>
<line x1="208.60" y1="175.70" x2="211.30" y2="175.70" stroke="#231f20" stroke-width="0.9" />
<text x="206.40" y="178.70" font-size="8.3" text-anchor="end" stroke="#231f20" stroke-width="0.15" >1.0</text>
<line x1="208.60" y1="153.95" x2="211.30" y2="153.95" stroke="#231f20" stroke-width="0.9" />
<text x="206.40" y="156.95" font-size="8.3" text-anchor="end" stroke="#231f20" stroke-width="0.15" >1.5</text>
<line x1="211.30" y1="219.20" x2="211.30" y2="221.90" stroke="#231f20" stroke-width="0.9" />
<text x="213.60" y="230.50" font-size="8.2" text-anchor="end" stroke="#231f20" stroke-width="0.15" >−5</text>
<line x1="226.38" y1="219.20" x2="226.38" y2="221.90" stroke="#231f20" stroke-width="0.9" />
<text x="228.68" y="230.50" font-size="8.2" text-anchor="end" stroke="#231f20" stroke-width="0.15" >−4</text>
<line x1="241.46" y1="219.20" x2="241.46" y2="221.90" stroke="#231f20" stroke-width="0.9" />
<text x="243.76" y="230.50" font-size="8.2" text-anchor="end" stroke="#231f20" stroke-width="0.15" >−3</text>
<line x1="256.54" y1="219.20" x2="256.54" y2="221.90" stroke="#231f20" stroke-width="0.9" />
<text x="258.84" y="230.50" font-size="8.2" text-anchor="end" stroke="#231f20" stroke-width="0.15" >−2</text>
<line x1="271.62" y1="219.20" x2="271.62" y2="221.90" stroke="#231f20" stroke-width="0.9" />
<text x="273.92" y="230.50" font-size="8.2" text-anchor="end" stroke="#231f20" stroke-width="0.15" >−1</text>
<line x1="286.70" y1="219.20" x2="286.70" y2="221.90" stroke="#231f20" stroke-width="0.9" />
<text x="286.70" y="230.50" font-size="8.2" text-anchor="middle" stroke="#231f20" stroke-width="0.15" >0</text>
<line x1="301.78" y1="219.20" x2="301.78" y2="221.90" stroke="#231f20" stroke-width="0.9" />
<text x="301.78" y="230.50" font-size="8.2" text-anchor="middle" stroke="#231f20" stroke-width="0.15" >1</text>
<text x="199.20" y="230.50" font-size="8.6" text-anchor="end" stroke="#231f20" stroke-width="0.15" >(Log<tspan font-size="6.0" dy="2.0">10</tspan><tspan dy="-2.0">)</tspan></text>
<text x="212.00" y="240.40" font-size="8.77" stroke="#231f20" stroke-width="0.15" textLength="82.60" lengthAdjust="spacingAndGlyphs" >Vemurafenib (μmol/L)</text>
<text x="189.30" y="186.40" font-size="8.99" text-anchor="middle" stroke="#231f20" stroke-width="0.15" textLength="62.20" lengthAdjust="spacingAndGlyphs" transform="rotate(-90 189.30 186.40)" >Relative viability</text>
<polyline fill="none" stroke="#dc3a30" stroke-width="1.1" points="211.3,176.8 306.8,176.8"/>
<polyline fill="none" stroke="#2f4f9e" stroke-width="1.3" points="211.3,175.9 212.3,175.9 213.3,175.9 214.3,175.9 215.3,175.9 216.3,175.9 217.3,175.9 218.3,175.9 219.3,175.9 220.3,175.9 221.3,175.9 222.3,175.9 223.3,175.9 224.3,175.9 225.3,175.9 226.3,175.9 227.3,175.9 228.3,175.9 229.3,175.9 230.3,175.9 231.3,175.9 232.3,175.9 233.3,175.9 234.3,175.9 235.3,175.9 236.3,175.9 237.3,175.9 238.3,175.9 239.3,175.9 240.3,175.9 241.3,175.9 242.3,175.9 243.3,176.0 244.3,176.0 245.3,176.0 246.3,176.0 247.3,176.0 248.3,176.1 249.3,176.1 250.3,176.2 251.3,176.2 252.3,176.3 253.3,176.4 254.3,176.5 255.3,176.7 256.3,176.9 257.3,177.2 258.3,177.6 259.3,178.0 260.3,178.5 261.3,179.2 262.3,180.0 263.3,181.0 264.3,182.2 265.3,183.5 266.3,185.0 267.3,186.7 268.3,188.5 269.3,190.4 270.3,192.3 271.3,194.2 272.3,196.0 273.3,197.7 274.3,199.2 275.3,200.6 276.3,201.7 277.3,202.7 278.3,203.5 279.3,204.2 280.3,204.7 281.3,205.2 282.3,205.5 283.3,205.8 284.3,206.0 285.3,206.2 286.3,206.3 287.3,206.4 288.3,206.5 289.3,206.6 290.3,206.6 291.3,206.7 292.3,206.7 293.3,206.7 294.3,206.7 295.3,206.7 296.3,206.8 297.3,206.8 298.3,206.8 299.3,206.8 300.3,206.8 301.3,206.8 302.3,206.8 303.3,206.8 304.3,206.8 305.3,206.8 306.3,206.8"/>
<line x1="226.40" y1="170.57" x2="226.40" y2="182.57" stroke="#e06a5a" stroke-width="0.7" />
<line x1="225.10" y1="170.57" x2="227.70" y2="170.57" stroke="#e06a5a" stroke-width="0.7" />
<line x1="225.10" y1="182.57" x2="227.70" y2="182.57" stroke="#e06a5a" stroke-width="0.7" />
<rect x="225.20" y="175.37" width="2.40" height="2.40" fill="#dc3a30" />
<line x1="241.50" y1="172.74" x2="241.50" y2="184.74" stroke="#e06a5a" stroke-width="0.7" />
<line x1="240.20" y1="172.74" x2="242.80" y2="172.74" stroke="#e06a5a" stroke-width="0.7" />
<line x1="240.20" y1="184.74" x2="242.80" y2="184.74" stroke="#e06a5a" stroke-width="0.7" />
<rect x="240.30" y="177.54" width="2.40" height="2.40" fill="#dc3a30" />
<line x1="256.60" y1="173.79" x2="256.60" y2="179.79" stroke="#e06a5a" stroke-width="0.7" />
<line x1="255.30" y1="173.79" x2="257.90" y2="173.79" stroke="#e06a5a" stroke-width="0.7" />
<line x1="255.30" y1="179.79" x2="257.90" y2="179.79" stroke="#e06a5a" stroke-width="0.7" />
<rect x="255.40" y="175.59" width="2.40" height="2.40" fill="#dc3a30" />
<line x1="271.70" y1="175.22" x2="271.70" y2="179.22" stroke="#e06a5a" stroke-width="0.7" />
<line x1="270.40" y1="175.22" x2="273.00" y2="175.22" stroke="#e06a5a" stroke-width="0.7" />
<line x1="270.40" y1="179.22" x2="273.00" y2="179.22" stroke="#e06a5a" stroke-width="0.7" />
<rect x="270.50" y="176.02" width="2.40" height="2.40" fill="#dc3a30" />
<line x1="286.80" y1="176.01" x2="286.80" y2="188.01" stroke="#e06a5a" stroke-width="0.7" />
<line x1="285.50" y1="176.01" x2="288.10" y2="176.01" stroke="#e06a5a" stroke-width="0.7" />
<line x1="285.50" y1="188.01" x2="288.10" y2="188.01" stroke="#e06a5a" stroke-width="0.7" />
<rect x="285.60" y="180.81" width="2.40" height="2.40" fill="#dc3a30" />
<line x1="296.80" y1="175.05" x2="296.80" y2="185.05" stroke="#e06a5a" stroke-width="0.7" />
<line x1="295.50" y1="175.05" x2="298.10" y2="175.05" stroke="#e06a5a" stroke-width="0.7" />
<line x1="295.50" y1="185.05" x2="298.10" y2="185.05" stroke="#e06a5a" stroke-width="0.7" />
<rect x="295.60" y="178.85" width="2.40" height="2.40" fill="#dc3a30" />
<rect x="305.60" y="166.67" width="2.40" height="2.40" fill="#dc3a30" />
<rect x="210.10" y="174.50" width="2.40" height="2.40" fill="#2f4f9e" />
<line x1="226.40" y1="172.70" x2="226.40" y2="178.70" stroke="#2f4f9e" stroke-width="0.7" />
<line x1="225.10" y1="172.70" x2="227.70" y2="172.70" stroke="#2f4f9e" stroke-width="0.7" />
<line x1="225.10" y1="178.70" x2="227.70" y2="178.70" stroke="#2f4f9e" stroke-width="0.7" />
<rect x="225.20" y="174.50" width="2.40" height="2.40" fill="#2f4f9e" />
<line x1="241.50" y1="172.70" x2="241.50" y2="178.70" stroke="#2f4f9e" stroke-width="0.7" />
<line x1="240.20" y1="172.70" x2="242.80" y2="172.70" stroke="#2f4f9e" stroke-width="0.7" />
<line x1="240.20" y1="178.70" x2="242.80" y2="178.70" stroke="#2f4f9e" stroke-width="0.7" />
<rect x="240.30" y="174.50" width="2.40" height="2.40" fill="#2f4f9e" />
<line x1="256.60" y1="179.05" x2="256.60" y2="181.05" stroke="#2f4f9e" stroke-width="0.7" />
<line x1="255.30" y1="179.05" x2="257.90" y2="179.05" stroke="#2f4f9e" stroke-width="0.7" />
<line x1="255.30" y1="181.05" x2="257.90" y2="181.05" stroke="#2f4f9e" stroke-width="0.7" />
<rect x="255.40" y="178.85" width="2.40" height="2.40" fill="#2f4f9e" />
<rect x="270.50" y="193.77" width="2.40" height="2.40" fill="#2f4f9e" />
<rect x="285.60" y="198.43" width="2.40" height="2.40" fill="#2f4f9e" />
<rect x="295.60" y="208.43" width="2.40" height="2.40" fill="#2f4f9e" />
<rect x="305.60" y="208.87" width="2.40" height="2.40" fill="#2f4f9e" />
<line x1="217.00" y1="149.00" x2="224.00" y2="149.00" stroke="#2f4f9e" stroke-width="1.1" />
<rect x="219.40" y="147.90" width="2.20" height="2.20" fill="#2f4f9e" />
<text x="227.00" y="151.80" font-size="8.35" stroke="#231f20" stroke-width="0.15" textLength="24.30" lengthAdjust="spacingAndGlyphs" >Control</text>
<line x1="217.00" y1="157.00" x2="224.00" y2="157.00" stroke="#dc3a30" stroke-width="1.1" />
<rect x="219.40" y="155.90" width="2.20" height="2.20" fill="#dc3a30" />
<text x="227.00" y="159.80" font-size="8.35" stroke="#231f20" stroke-width="0.15" textLength="42.50" lengthAdjust="spacingAndGlyphs" ><tspan font-style="italic">SREBF2</tspan> OE</text>
<text x="353.60" y="144.90" font-size="10" font-weight="bold" >F</text>
<text x="405.00" y="143.80" font-size="8.56" stroke="#231f20" stroke-width="0.15" textLength="67.50" lengthAdjust="spacingAndGlyphs" >Increasing fatostatin</text>
<polygon points="386,152.8 480.2,147.3 480.2,152.8" fill="url(#wA)"/>
<text x="405.80" y="158.50" font-size="6.6" text-anchor="middle" >0</text>
<text x="437.50" y="158.50" font-size="6.6" text-anchor="middle" >2</text>
<text x="468.70" y="158.50" font-size="6.6" text-anchor="middle" >10</text>
<text x="481.00" y="158.50" font-size="7.06" textLength="24.50" lengthAdjust="spacingAndGlyphs" >(μmol/L)</text>
<rect x="385.00" y="160.00" width="31.50" height="21.40" fill="#e8312a" />
<rect x="416.50" y="160.00" width="31.90" height="21.40" fill="#e8332b" />
<rect x="448.40" y="160.00" width="31.20" height="21.40" fill="#d9cde6" />
<rect x="385.00" y="181.40" width="31.50" height="21.40" fill="#f08070" />
<rect x="416.50" y="181.40" width="31.90" height="21.40" fill="#f6cfc4" />
<rect x="448.40" y="181.40" width="31.20" height="21.40" fill="#5a5aaa" />
<rect x="385.00" y="202.80" width="31.50" height="21.40" fill="#8576bd" />
<rect x="416.50" y="202.80" width="31.90" height="21.40" fill="#9080c2" />
<rect x="448.40" y="202.80" width="31.20" height="21.40" fill="#3a50a6" />
<rect x="385.00" y="224.20" width="31.50" height="21.40" fill="#3d4ea5" />
<rect x="416.50" y="224.20" width="31.90" height="21.40" fill="#3e4fa6" />
<rect x="448.40" y="224.20" width="31.20" height="21.40" fill="#3c4ea6" />
<line x1="416.50" y1="160.00" x2="416.50" y2="245.60" stroke="#f4eef2" stroke-width="0.9" />
<line x1="448.40" y1="160.00" x2="448.40" y2="245.60" stroke="#f4eef2" stroke-width="0.9" />
<line x1="385.00" y1="181.40" x2="479.60" y2="181.40" stroke="#f4eef2" stroke-width="0.9" />
<line x1="385.00" y1="202.80" x2="479.60" y2="202.80" stroke="#f4eef2" stroke-width="0.9" />
<line x1="385.00" y1="224.20" x2="479.60" y2="224.20" stroke="#f4eef2" stroke-width="0.9" />
<text x="484.00" y="172.40" font-size="6.6" >0</text>
<text x="484.00" y="194.20" font-size="6.6" >0.5</text>
<text x="484.00" y="216.00" font-size="6.6" >2</text>
<text x="484.00" y="237.40" font-size="6.6" >5</text>
<text x="332.50" y="175.20" font-size="7.06" textLength="49.50" lengthAdjust="spacingAndGlyphs" >Relative colony #</text>
<rect x="353.20" y="181.00" width="7.40" height="36.50" fill="url(#cbF)" />
<text x="370.00" y="184.30" font-size="6.6" >1.0</text>
<text x="370.00" y="201.80" font-size="6.6" >0.5</text>
<text x="370.00" y="219.80" font-size="6.6" >0.0</text>
<polygon points="498,181 495,246 500.5,246" fill="url(#wV)"/>
<text x="505.30" y="162.60" font-size="6.96" textLength="93.60" lengthAdjust="spacingAndGlyphs" transform="rotate(90 505.30 162.60)" >Increasing vemurafenib (μmol/L)</text>
<text x="1.40" y="257.90" font-size="10" font-weight="bold" >G</text>
<line x1="34.60" y1="271.00" x2="34.60" y2="336.80" stroke="#231f20" stroke-width="0.9" />
<line x1="34.60" y1="336.80" x2="130.40" y2="336.80" stroke="#231f20" stroke-width="0.9" />
<line x1="31.80" y1="336.80" x2="34.60" y2="336.80" stroke="#231f20" stroke-width="0.9" />
<text x="30.50" y="339.70" font-size="8.0" text-anchor="end" stroke="#231f20" stroke-width="0.15" >0</text>
<line x1="31.80" y1="320.80" x2="34.60" y2="320.80" stroke="#231f20" stroke-width="0.9" />
<text x="30.50" y="323.70" font-size="8.0" text-anchor="end" stroke="#231f20" stroke-width="0.15" >1</text>
<line x1="31.80" y1="304.80" x2="34.60" y2="304.80" stroke="#231f20" stroke-width="0.9" />
<text x="30.50" y="307.70" font-size="8.0" text-anchor="end" stroke="#231f20" stroke-width="0.15" >2</text>
<line x1="31.80" y1="288.80" x2="34.60" y2="288.80" stroke="#231f20" stroke-width="0.9" />
<text x="30.50" y="291.70" font-size="8.0" text-anchor="end" stroke="#231f20" stroke-width="0.15" >3</text>
<line x1="31.80" y1="272.80" x2="34.60" y2="272.80" stroke="#231f20" stroke-width="0.9" />
<text x="30.50" y="275.70" font-size="8.0" text-anchor="end" stroke="#231f20" stroke-width="0.15" >4</text>
<text x="10.90" y="305.90" font-size="8.8" text-anchor="middle" stroke="#231f20" stroke-width="0.15" textLength="58.90" lengthAdjust="spacingAndGlyphs" transform="rotate(-90 10.90 305.90)" >Relative mRNA</text>
<text x="19.70" y="306.20" font-size="8.8" text-anchor="middle" stroke="#231f20" stroke-width="0.15" textLength="40.00" lengthAdjust="spacingAndGlyphs" transform="rotate(-90 19.70 306.20)" >expression</text>
<line x1="39.70" y1="320.80" x2="39.70" y2="318.40" stroke="#3353a6" stroke-width="0.7" />
<line x1="38.70" y1="318.40" x2="40.70" y2="318.40" stroke="#3353a6" stroke-width="0.7" />
<rect x="37.50" y="320.80" width="4.40" height="16.00" fill="#3353a6" />
<line x1="46.35" y1="316.00" x2="46.35" y2="315.20" stroke="#e5282a" stroke-width="0.7" />
<line x1="45.35" y1="315.20" x2="47.35" y2="315.20" stroke="#e5282a" stroke-width="0.7" />
<rect x="44.15" y="316.00" width="4.40" height="20.80" fill="#e5282a" />
<line x1="53.00" y1="300.80" x2="53.00" y2="298.40" stroke="#f59a22" stroke-width="0.7" />
<line x1="52.00" y1="298.40" x2="54.00" y2="298.40" stroke="#f59a22" stroke-width="0.7" />
<rect x="50.80" y="300.80" width="4.40" height="36.00" fill="#f59a22" />
<line x1="46.30" y1="336.80" x2="46.30" y2="339.30" stroke="#231f20" stroke-width="0.9" />
<line x1="64.10" y1="320.80" x2="64.10" y2="318.40" stroke="#3353a6" stroke-width="0.7" />
<line x1="63.10" y1="318.40" x2="65.10" y2="318.40" stroke="#3353a6" stroke-width="0.7" />
<rect x="61.90" y="320.80" width="4.40" height="16.00" fill="#3353a6" />
<line x1="70.75" y1="295.20" x2="70.75" y2="294.40" stroke="#e5282a" stroke-width="0.7" />
<line x1="69.75" y1="294.40" x2="71.75" y2="294.40" stroke="#e5282a" stroke-width="0.7" />
<rect x="68.55" y="295.20" width="4.40" height="41.60" fill="#e5282a" />
<line x1="77.40" y1="292.80" x2="77.40" y2="290.40" stroke="#f59a22" stroke-width="0.7" />
<line x1="76.40" y1="290.40" x2="78.40" y2="290.40" stroke="#f59a22" stroke-width="0.7" />
<rect x="75.20" y="292.80" width="4.40" height="44.00" fill="#f59a22" />
<line x1="70.70" y1="336.80" x2="70.70" y2="339.30" stroke="#231f20" stroke-width="0.9" />
<rect x="86.50" y="320.80" width="4.40" height="16.00" fill="#3353a6" />
<line x1="95.35" y1="290.40" x2="95.35" y2="288.00" stroke="#e5282a" stroke-width="0.7" />
<line x1="94.35" y1="288.00" x2="96.35" y2="288.00" stroke="#e5282a" stroke-width="0.7" />
<rect x="93.15" y="290.40" width="4.40" height="46.40" fill="#e5282a" />
<line x1="102.00" y1="283.20" x2="102.00" y2="282.40" stroke="#f59a22" stroke-width="0.7" />
<line x1="101.00" y1="282.40" x2="103.00" y2="282.40" stroke="#f59a22" stroke-width="0.7" />
<rect x="99.80" y="283.20" width="4.40" height="53.60" fill="#f59a22" />
<line x1="95.30" y1="336.80" x2="95.30" y2="339.30" stroke="#231f20" stroke-width="0.9" />
<rect x="111.30" y="320.80" width="4.40" height="16.00" fill="#3353a6" />
<line x1="120.15" y1="314.40" x2="120.15" y2="313.60" stroke="#e5282a" stroke-width="0.7" />
<line x1="119.15" y1="313.60" x2="121.15" y2="313.60" stroke="#e5282a" stroke-width="0.7" />
<rect x="117.95" y="314.40" width="4.40" height="22.40" fill="#e5282a" />
<line x1="126.80" y1="300.00" x2="126.80" y2="299.20" stroke="#f59a22" stroke-width="0.7" />
<line x1="125.80" y1="299.20" x2="127.80" y2="299.20" stroke="#f59a22" stroke-width="0.7" />
<rect x="124.60" y="300.00" width="4.40" height="36.80" fill="#f59a22" />
<line x1="120.10" y1="336.80" x2="120.10" y2="339.30" stroke="#231f20" stroke-width="0.9" />
<line x1="37.40" y1="276.50" x2="53.90" y2="276.50" stroke="#555" stroke-width="0.75" />
<text x="46.35" y="276.30" font-size="7.2" text-anchor="middle" font-weight="bold" letter-spacing="0.5">**</text>
<line x1="37.40" y1="284.40" x2="49.80" y2="284.40" stroke="#555" stroke-width="0.75" />
<text x="44.45" y="284.30" font-size="7.2" text-anchor="middle" font-weight="bold" letter-spacing="0.5">*</text>
<line x1="61.40" y1="276.50" x2="78.20" y2="276.50" stroke="#555" stroke-width="0.75" />
<text x="69.65" y="276.30" font-size="7.2" text-anchor="middle" font-weight="bold" letter-spacing="0.5">***</text>
<line x1="62.10" y1="284.40" x2="72.90" y2="284.40" stroke="#555" stroke-width="0.75" />
<text x="68.25" y="284.30" font-size="7.2" text-anchor="middle" font-weight="bold" letter-spacing="0.5">***</text>
<line x1="85.00" y1="276.50" x2="101.20" y2="276.50" stroke="#555" stroke-width="0.75" />
<text x="93.35" y="276.30" font-size="7.2" text-anchor="middle" font-weight="bold" letter-spacing="0.5">****</text>
<line x1="85.00" y1="284.40" x2="97.10" y2="284.40" stroke="#555" stroke-width="0.75" />
<text x="90.75" y="284.30" font-size="7.2" text-anchor="middle" font-weight="bold" letter-spacing="0.5">**</text>
<line x1="108.20" y1="276.50" x2="125.40" y2="276.50" stroke="#555" stroke-width="0.75" />
<text x="116.55" y="276.30" font-size="7.2" text-anchor="middle" font-weight="bold" letter-spacing="0.5">****</text>
<line x1="108.20" y1="284.40" x2="120.30" y2="284.40" stroke="#555" stroke-width="0.75" />
<text x="112.55" y="284.30" font-size="7.2" text-anchor="middle" font-weight="bold" letter-spacing="0.5">**</text>
<text x="48.0" y="345.6" font-size="8.9" font-style="italic" text-anchor="end" transform="rotate(-45 48.0 345.6)">SREBF1</text>
<text x="73.0" y="345.6" font-size="8.9" font-style="italic" text-anchor="end" transform="rotate(-45 73.0 345.6)">SREBF2</text>
<text x="94.3" y="345.6" font-size="8.9" font-style="italic" text-anchor="end" transform="rotate(-45 94.3 345.6)">SCD</text>
<text x="118.0" y="345.6" font-size="8.9" font-style="italic" text-anchor="end" transform="rotate(-45 118.0 345.6)">ACSL1</text>
<rect x="134.70" y="269.60" width="6.80" height="5.60" fill="#3353a6" />
<text x="145.30" y="275.80" font-size="8.1" stroke="#231f20" stroke-width="0.15" textLength="17.20" lengthAdjust="spacingAndGlyphs" >Sens</text>
<rect x="134.70" y="279.90" width="6.80" height="5.60" fill="#e5282a" />
<text x="145.30" y="286.10" font-size="8.1" stroke="#231f20" stroke-width="0.15" textLength="30.60" lengthAdjust="spacingAndGlyphs" >Resist #1</text>
<rect x="134.70" y="290.20" width="6.80" height="5.60" fill="#f59a22" />
<text x="145.30" y="296.40" font-size="8.1" stroke="#231f20" stroke-width="0.15" textLength="30.90" lengthAdjust="spacingAndGlyphs" >Resist #2</text>
<text x="186.20" y="258.50" font-size="10" font-weight="bold" >H</text>
<text x="248.80" y="262.40" font-size="8.56" stroke="#231f20" stroke-width="0.15" textLength="68.70" lengthAdjust="spacingAndGlyphs" >Increasing fatostatin</text>
<polygon points="245,272 330,266.2 330,272" fill="url(#wA)"/>
<text x="251.20" y="278.20" font-size="6.6" text-anchor="middle" >0</text>
<text x="282.50" y="278.20" font-size="6.6" text-anchor="middle" >2</text>
<text x="314.50" y="278.20" font-size="6.6" text-anchor="middle" >10</text>
<text x="330.00" y="278.20" font-size="7.06" textLength="23.80" lengthAdjust="spacingAndGlyphs" >(μmol/L)</text>
<rect x="235.50" y="279.60" width="31.10" height="27.30" fill="#f07e68" />
<rect x="266.60" y="279.60" width="31.60" height="27.30" fill="#e84c34" />
<rect x="298.20" y="279.60" width="31.20" height="27.30" fill="#f8c8bc" />
<rect x="235.50" y="306.90" width="31.10" height="28.10" fill="#f08068" />
<rect x="266.60" y="306.90" width="31.60" height="28.10" fill="#7e70b8" />
<rect x="298.20" y="306.90" width="31.20" height="28.10" fill="#3a52a4" />
<rect x="235.50" y="335.00" width="31.10" height="28.20" fill="#f08068" />
<rect x="266.60" y="335.00" width="31.60" height="28.20" fill="#e8302a" />
<rect x="298.20" y="335.00" width="31.20" height="28.20" fill="#5a58a8" />
<line x1="266.60" y1="279.60" x2="266.60" y2="363.20" stroke="#f4eef2" stroke-width="0.9" />
<line x1="298.20" y1="279.60" x2="298.20" y2="363.20" stroke="#f4eef2" stroke-width="0.9" />
<line x1="235.50" y1="306.90" x2="329.40" y2="306.90" stroke="#f4eef2" stroke-width="0.9" />
<line x1="235.50" y1="335.00" x2="329.40" y2="335.00" stroke="#f4eef2" stroke-width="0.9" />
<text x="333.80" y="295.10" font-size="8.1" stroke="#231f20" stroke-width="0.15" textLength="16.70" lengthAdjust="spacingAndGlyphs" >Sens</text>
<text x="333.80" y="324.00" font-size="8.1" stroke="#231f20" stroke-width="0.15" textLength="31.10" lengthAdjust="spacingAndGlyphs" >Resist #1</text>
<text x="333.80" y="352.40" font-size="8.1" stroke="#231f20" stroke-width="0.15" textLength="31.10" lengthAdjust="spacingAndGlyphs" >Resist #2</text>
<text x="184.00" y="294.30" font-size="7.06" textLength="48.50" lengthAdjust="spacingAndGlyphs" >Relative colony #</text>
<linearGradient id="cbH" x1="0" x2="0" y1="0" y2="1"><stop offset="0" stop-color="#c8282a"/><stop offset="0.2" stop-color="#e86a5e"/><stop offset="0.55" stop-color="#f8f2f4"/><stop offset="0.8" stop-color="#8c84c0"/><stop offset="1" stop-color="#2e3088"/></linearGradient>
<rect x="209.20" y="300.80" width="6.40" height="33.60" fill="url(#cbH)" />
<text x="217.00" y="302.80" font-size="6.4" >1.25</text>
<text x="217.00" y="309.80" font-size="6.4" >1.00</text>
<text x="217.00" y="316.60" font-size="6.4" >0.75</text>
<text x="217.00" y="323.60" font-size="6.4" >0.50</text>
<text x="217.00" y="330.30" font-size="6.4" >0.25</text>
<text x="372.00" y="258.00" font-size="10" font-weight="bold" >I</text>
<line x1="414.10" y1="275.00" x2="414.10" y2="337.00" stroke="#231f20" stroke-width="0.9" />
<line x1="414.10" y1="337.00" x2="457.70" y2="337.00" stroke="#231f20" stroke-width="0.9" />
<line x1="411.30" y1="337.00" x2="414.10" y2="337.00" stroke="#231f20" stroke-width="0.9" />
<text x="409.90" y="340.10" font-size="8.8" text-anchor="end" stroke="#231f20" stroke-width="0.15" >0</text>
<line x1="411.30" y1="321.62" x2="414.10" y2="321.62" stroke="#231f20" stroke-width="0.9" />
<text x="409.90" y="324.73" font-size="8.8" text-anchor="end" stroke="#231f20" stroke-width="0.15" >2</text>
<line x1="411.30" y1="306.25" x2="414.10" y2="306.25" stroke="#231f20" stroke-width="0.9" />
<text x="409.90" y="309.35" font-size="8.8" text-anchor="end" stroke="#231f20" stroke-width="0.15" >4</text>
<line x1="411.30" y1="290.88" x2="414.10" y2="290.88" stroke="#231f20" stroke-width="0.9" />
<text x="409.90" y="293.98" font-size="8.8" text-anchor="end" stroke="#231f20" stroke-width="0.15" >6</text>
<line x1="411.30" y1="275.50" x2="414.10" y2="275.50" stroke="#231f20" stroke-width="0.9" />
<text x="409.90" y="278.60" font-size="8.8" text-anchor="end" stroke="#231f20" stroke-width="0.15" >8</text>
<text x="387.90" y="306.00" font-size="9.2" text-anchor="middle" stroke="#231f20" stroke-width="0.15" textLength="49.50" lengthAdjust="spacingAndGlyphs" transform="rotate(-90 387.90 306.00)" >Relative ratio</text>
<text x="396.60" y="306.00" font-size="9.2" text-anchor="middle" stroke="#231f20" stroke-width="0.15" textLength="51.60" lengthAdjust="spacingAndGlyphs" transform="rotate(-90 396.60 306.00)" >(GSH/GSSG)</text>
<line x1="423.55" y1="309.32" x2="423.55" y2="305.10" stroke="#5a6490" stroke-width="0.8" />
<line x1="421.55" y1="305.10" x2="425.55" y2="305.10" stroke="#5a6490" stroke-width="0.8" />
<rect x="419.20" y="309.32" width="8.70" height="27.68" fill="#3353a6" />
<line x1="423.55" y1="337.00" x2="423.55" y2="339.50" stroke="#231f20" stroke-width="0.9" />
<line x1="436.80" y1="283.96" x2="436.80" y2="279.34" stroke="#8a5a5a" stroke-width="0.8" />
<line x1="434.80" y1="279.34" x2="438.80" y2="279.34" stroke="#8a5a5a" stroke-width="0.8" />
<rect x="432.30" y="283.96" width="9.00" height="53.04" fill="#e5282a" />
<line x1="436.80" y1="337.00" x2="436.80" y2="339.50" stroke="#231f20" stroke-width="0.9" />
<line x1="450.25" y1="288.57" x2="450.25" y2="282.42" stroke="#9a8a70" stroke-width="0.8" />
<line x1="448.25" y1="282.42" x2="452.25" y2="282.42" stroke="#9a8a70" stroke-width="0.8" />
<rect x="445.70" y="288.57" width="9.10" height="48.43" fill="#f59a22" />
<line x1="450.25" y1="337.00" x2="450.25" y2="339.50" stroke="#231f20" stroke-width="0.9" />
<line x1="413.80" y1="269.10" x2="453.30" y2="269.10" stroke="#555" stroke-width="0.75" />
<text x="435.75" y="268.70" font-size="7.2" text-anchor="middle" font-weight="bold" letter-spacing="0.5">**</text>
<line x1="416.30" y1="276.10" x2="437.90" y2="276.10" stroke="#555" stroke-width="0.75" />
<text x="427.65" y="276.10" font-size="7.2" text-anchor="middle" font-weight="bold" letter-spacing="0.5">**</text>
<text x="424.0" y="345.3" font-size="9" text-anchor="end" transform="rotate(-45 424.0 345.3)">Sensitive</text>
<text x="438.0" y="343.8" font-size="9" text-anchor="end" transform="rotate(-45 438.0 343.8)">Resist #1</text>
<text x="451.8" y="346.4" font-size="9" text-anchor="end" transform="rotate(-45 451.8 346.4)">Resist #2</text>
<rect x="463.50" y="268.50" width="6.80" height="5.60" fill="#3353a6" />
<text x="474.30" y="274.40" font-size="8.1" stroke="#231f20" stroke-width="0.15" textLength="16.80" lengthAdjust="spacingAndGlyphs" >Sens</text>
<rect x="463.50" y="278.20" width="6.80" height="5.60" fill="#e5282a" />
<text x="474.30" y="284.10" font-size="8.1" stroke="#231f20" stroke-width="0.15" textLength="30.80" lengthAdjust="spacingAndGlyphs" >Resist #1</text>
<rect x="463.50" y="287.90" width="6.80" height="5.60" fill="#f59a22" />
<text x="474.30" y="293.80" font-size="8.1" stroke="#231f20" stroke-width="0.15" textLength="31.00" lengthAdjust="spacingAndGlyphs" >Resist #2</text>
</g>
</svg></body></html>
